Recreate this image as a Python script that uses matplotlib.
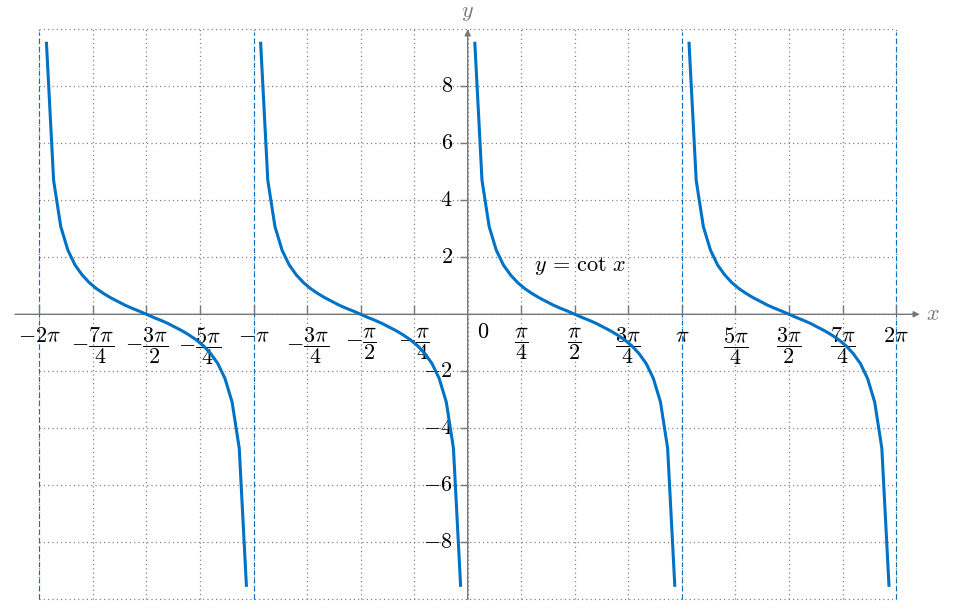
import numpy as np
import matplotlib
matplotlib.use("Agg")
import matplotlib.pyplot as plt

plt.rcParams['mathtext.fontset'] = 'cm'
plt.rcParams['font.family'] = ['DejaVu Serif']
plt.rcParams['lines.scale_dashes'] = False

# ---- data ----
# sample angles (degrees) within one period of cot x (period pi), as drawn
branch_angle_deg = [6, 12, 18, 24, 30, 36, 42, 48, 54, 60, 66, 72, 78, 84, 90,
                    96, 102, 108, 114, 120, 126, 132, 138, 144, 150, 156, 162, 168, 174]
# cot values read at those angles
branch_cot = [9.51, 4.70, 3.08, 2.25, 1.73, 1.38, 1.11, 0.90, 0.73, 0.58, 0.45, 0.32, 0.21, 0.11, 0.0,
              -0.11, -0.21, -0.32, -0.45, -0.58, -0.73, -0.90, -1.11, -1.38, -1.73, -2.25, -3.08, -4.70, -9.51]
# each branch starts at k*pi
branch_start_pi = [-2, -1, 0, 1]
# asymptotes in multiples of pi
asymptote_pi = [-2, -1, 1, 2]

xtick_quarters = [-8, -7, -6, -5, -4, -3, -2, -1, 1, 2, 3, 4, 5, 6, 7, 8]
xtick_labels = [r'$-2\pi$', r'$-\dfrac{7\pi}{4}$', r'$-\dfrac{3\pi}{2}$', r'$-\dfrac{5\pi}{4}$',
                r'$-\pi$', r'$-\dfrac{3\pi}{4}$', r'$-\dfrac{\pi}{2}$', r'$-\dfrac{\pi}{4}$',
                r'$\dfrac{\pi}{4}$', r'$\dfrac{\pi}{2}$', r'$\dfrac{3\pi}{4}$', r'$\pi$',
                r'$\dfrac{5\pi}{4}$', r'$\dfrac{3\pi}{2}$', r'$\dfrac{7\pi}{4}$', r'$2\pi$']
ytick_vals = [-8, -6, -4, -2, 2, 4, 6, 8]
ytick_labels = [r'$-8$', r'$-6$', r'$-4$', r'$-2$', r'$2$', r'$4$', r'$6$', r'$8$']
ygrid_vals = [-10, -8, -6, -4, -2, 0, 2, 4, 6, 8, 10]
curve_label = r'$y\,=\,\cot\,x$'

# ---- style ----
PI = np.pi
BLUE = '#0072C6'
GRAY = '#777777'
FS = 16

fig = plt.figure(figsize=(9.64, 6.14), dpi=100)
ax = fig.add_axes([0, 0, 1, 1])
ax.set_xlim(-6.860, 7.279)
ax.set_ylim(-10.516, 11.028)
for s in ax.spines.values():
    s.set_visible(False)
ax.set_xticks([])
ax.set_yticks([])

# grid
grid_x = [q * PI / 4 for q in range(-8, 9)]
ax.vlines(grid_x, -10, 10, colors=GRAY, linewidth=0.9, linestyles=[(0, (0.8, 2.3))], zorder=1)
ax.hlines(ygrid_vals, -2 * PI, 2 * PI, colors=GRAY, linewidth=0.9, linestyles=[(0, (0.8, 2.3))], zorder=1)

# asymptotes
ax.vlines([k * PI for k in asymptote_pi], -10, 9.9, colors=BLUE, linewidth=0.8,
          linestyles=[(0, (3.6, 2.2))], zorder=2)

# axes with arrows
arrow_kw = dict(arrowstyle='-|>', color=GRAY, lw=1.0, mutation_scale=9, shrinkA=0, shrinkB=0)
ax.annotate('', xy=(6.63, 0), xytext=(-6.64, 0), arrowprops=arrow_kw, zorder=3)
ax.annotate('', xy=(0, 10.0), xytext=(0, -10.0), arrowprops=arrow_kw, zorder=3)
ax.annotate(r'$x$', xy=(6.63, 0), xytext=(13, 0), textcoords='offset pixels',
            ha='center', va='center', fontsize=FS, color=GRAY)
ax.annotate(r'$y$', xy=(0, 10.0), xytext=(0, 17), textcoords='offset pixels',
            ha='center', va='center', fontsize=FS, color=GRAY)

# ticks
for q in xtick_quarters:
    ax.plot([q * PI / 4] * 2, [0, 9 / 28.5], color=GRAY, lw=1.0, zorder=3, solid_capstyle='butt')
for v in ytick_vals:
    ax.plot([0, -8 / 214.2 * PI], [v, v], color=GRAY, lw=1.0, zorder=3, solid_capstyle='butt')

# tick labels
for q, lab in zip(xtick_quarters, xtick_labels):
    ax.annotate(lab, xy=(q * PI / 4, 0), xytext=(0, -11), textcoords='offset pixels',
                ha='center', va='top', fontsize=FS, zorder=2)
ax.annotate(r'$0$', xy=(0, 0), xytext=(15, -18), textcoords='offset pixels',
            ha='center', va='center', fontsize=FS, zorder=2)
for v, lab in zip(ytick_vals, ytick_labels):
    ax.annotate(lab, xy=(0, v), xytext=(-15, 0), textcoords='offset pixels',
                ha='right', va='center', fontsize=FS, zorder=2)

# curves
for k in branch_start_pi:
    xs = [k * PI + a * PI / 180 for a in branch_angle_deg]
    ax.plot(xs, branch_cot, color=BLUE, lw=2.2, zorder=4, solid_joinstyle='round')

ax.text(0.97, 1.69, curve_label, ha='left', va='center', fontsize=FS, zorder=5)

fig.savefig('out.png', dpi=100)
